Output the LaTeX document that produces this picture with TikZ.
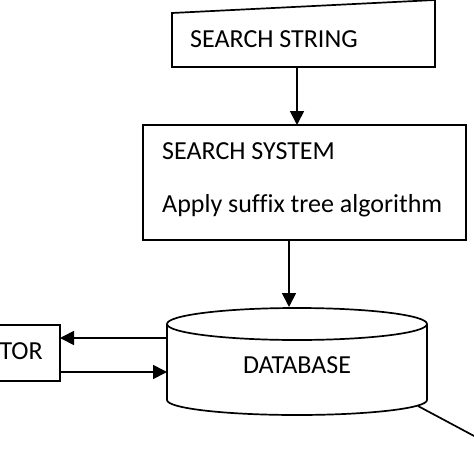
\documentclass[tikz,border=0pt]{standalone}
\usepackage{fontspec}
\setmainfont{Carlito}[Ligatures=NoCommon]
\usetikzlibrary{arrows.meta}
\begin{document}
\begin{tikzpicture}[x=1pt,y=1pt,
  shape line/.style={line width=1.7pt, line join=miter},
  conn/.style={line width=1.7pt, -{Triangle[length=14pt,width=14pt]}},
  plain conn/.style={line width=1.7pt},
  lbl/.style={inner sep=0pt, font=\fontsize{26}{31}\selectfont}]
\useasboundingbox[fill=white] (0,0) rectangle (474,-474);
% search string (manual input)
\coordinate (ssTL) at (172,-13);
\coordinate (ssTR) at (435,0);
\coordinate (ssBR) at (435,-67);
\coordinate (ssBL) at (172,-67);
\coordinate (ssB) at (297,-67);
\draw[shape line] (ssTL) -- (ssTR) -- (ssBR) -- (ssBL) -- cycle;
\node[lbl, anchor=base west] (ss) at (190,-47) {SEARCH STRING};
% search system box
\coordinate (sysT) at (297,-125);
\coordinate (sysB) at (289,-240);
\draw[shape line] (143,-125) rectangle (466,-240);
\node[lbl, anchor=base west] (sys1) at (162,-159) {SEARCH SYSTEM};
\node[lbl, anchor=base west] (sys2) at (162,-212) {Apply suffix tree algorithm};
% database cylinder
\coordinate (dbT) at (289,-307);
\coordinate (dbL1) at (167,-338);
\coordinate (dbL2) at (167,-372);
\coordinate (dbBR) at (418,-406);
\draw[shape line, fill=white] (167,-324) -- (167,-400) arc[start angle=180,end angle=360,x radius=130,y radius=15] -- (427,-324);
\draw[shape line] (297,-324) ellipse[x radius=130,y radius=16];
\node[lbl, anchor=base] (db) at (297,-373) {DATABASE};
% left box (cut off)
\coordinate (torR1) at (60,-338);
\coordinate (torR2) at (60,-372);
\draw[shape line] (-10,-325) rectangle (60,-381);
\node[lbl, anchor=base east] (tor) at (43,-359) {TOR};
% connectors
\draw[conn] (ssB) -- (sysT);
\draw[conn] (sysB) -- (dbT);
\draw[conn] (dbL1) -- (torR1);
\draw[conn] (torR2) -- (dbL2);
\coordinate (outEnd) at (476,-437);
\draw[plain conn] (dbBR) -- (outEnd);
\end{tikzpicture}
\end{document}
